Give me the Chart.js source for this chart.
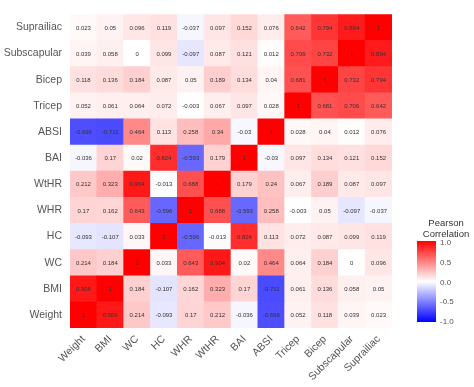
<!DOCTYPE html>
<html>
<head>
<meta charset="utf-8">
<script src="https://cdn.jsdelivr.net/npm/chart.js@4"></script>
<style>
  html, body { margin: 0; padding: 0; background: #fff; }
  #wrap { width: 474px; height: 387px; }
</style>
</head>
<body>
<div id="wrap"><canvas id="corrChart" width="474" height="387"></canvas></div>
<script>
// variable order, left to right on x, bottom to top on y
const variables = ["Weight", "BMI", "WC", "HC", "WHR", "WtHR", "BAI", "ABSI", "Tricep", "Bicep", "Subscapular", "Suprailiac"];

// one row per variable (values read across the columns)
const weightRow      = [1, 0.906, 0.214, -0.093, 0.17, 0.212, -0.036, -0.696, 0.052, 0.118, 0.039, 0.023];
const bmiRow         = [0.906, 1, 0.184, -0.107, 0.162, 0.323, 0.17, -0.711, 0.061, 0.136, 0.058, 0.05];
const wcRow          = [0.214, 0.184, 1, 0.033, 0.643, 0.904, 0.02, 0.464, 0.064, 0.184, 0, 0.096];
const hcRow          = [-0.093, -0.107, 0.033, 1, -0.596, -0.013, 0.824, 0.113, 0.072, 0.087, 0.099, 0.119];
const whrRow         = [0.17, 0.162, 0.643, -0.596, 1, 0.688, -0.593, 0.258, -0.003, 0.05, -0.097, -0.037];
const wthrRow        = [0.212, 0.323, 0.904, -0.013, 0.688, 1, 0.179, 0.24, 0.067, 0.189, 0.087, 0.097];
const baiRow         = [-0.036, 0.17, 0.02, 0.824, -0.593, 0.179, 1, -0.03, 0.097, 0.134, 0.121, 0.152];
const absiRow        = [-0.696, -0.711, 0.464, 0.113, 0.258, 0.34, -0.03, 1, 0.028, 0.04, 0.012, 0.076];
const tricepRow      = [0.052, 0.061, 0.064, 0.072, -0.003, 0.067, 0.097, 0.028, 1, 0.681, 0.706, 0.642];
const bicepRow       = [0.118, 0.136, 0.184, 0.087, 0.05, 0.189, 0.134, 0.04, 0.681, 1, 0.732, 0.794];
const subscapularRow = [0.039, 0.058, 0, 0.099, -0.097, 0.087, 0.121, 0.012, 0.706, 0.732, 1, 0.894];
const suprailiacRow  = [0.023, 0.05, 0.096, 0.119, -0.037, 0.097, 0.152, 0.076, 0.642, 0.794, 0.894, 1];

const rows = [weightRow, bmiRow, wcRow, hcRow, whrRow, wthrRow, baiRow, absiRow, tricepRow, bicepRow, subscapularRow, suprailiacRow];

const legendTicks = ["1.0", "0.5", "0.0", "-0.5", "-1.0"];

// blue -> white -> red
function corrColor(v) {
  const t = Math.min(1, Math.abs(v));
  const c = Math.round(255 * (1 - t));
  return v >= 0 ? `rgb(255,${c},${c})` : `rgb(${c},${c},255)`;
}

const datasets = rows.map((row, i) => ({
  label: variables[i],
  data: row.map(() => 1),
  corr: row,
  backgroundColor: row.map(corrColor),
  borderWidth: 0,
  barPercentage: 1,
  categoryPercentage: 1,
}));

const cellText = {
  id: "cellText",
  afterDatasetsDraw(chart) {
    const ctx = chart.ctx;
    ctx.save();
    ctx.font = "6px 'Liberation Sans', Arial, sans-serif";
    ctx.fillStyle = "#333";
    ctx.textAlign = "center";
    ctx.textBaseline = "middle";
    chart.data.datasets.forEach((ds, i) => {
      const meta = chart.getDatasetMeta(i);
      meta.data.forEach((bar, j) => {
        const cy = (bar.y + bar.base) / 2;
        ctx.fillText(String(ds.corr[j]), bar.x, cy + 0.5);
      });
    });
    ctx.restore();
  }
};

const colorBar = {
  id: "colorBar",
  afterDraw(chart) {
    const ctx = chart.ctx;
    const x = 417, w = 19, top = 241, bottom = 322;
    ctx.save();
    const g = ctx.createLinearGradient(0, top, 0, bottom);
    g.addColorStop(0, "#ff0000");
    g.addColorStop(0.5, "#ffffff");
    g.addColorStop(1, "#0000ff");
    ctx.fillStyle = g;
    ctx.fillRect(x, top, w, bottom - top);

    ctx.fillStyle = "#333";
    ctx.font = "9.5px 'Liberation Sans', Arial, sans-serif";
    ctx.textAlign = "center";
    ctx.textBaseline = "middle";
    ctx.fillText("Pearson", 446, 223);
    ctx.fillText("Correlation", 446, 234);

    ctx.fillStyle = "#555";
    ctx.font = "8px 'Liberation Sans', Arial, sans-serif";
    ctx.textAlign = "left";
    legendTicks.forEach((t, i) => {
      const y = top + 2 + i * (bottom - top - 2) / (legendTicks.length - 1);
      ctx.fillText(t, 440, y);
    });
    ctx.restore();
  }
};

new Chart(document.getElementById("corrChart"), {
  type: "bar",
  data: { labels: variables, datasets: datasets },
  plugins: [cellText, colorBar],
  options: {
    responsive: false,
    animation: false,
    layout: { padding: { top: 7, right: 82, left: 0, bottom: 0 } },
    plugins: { legend: { display: false }, tooltip: { enabled: false } },
    scales: {
      x: {
        stacked: true,
        grid: { display: false, drawTicks: false },
        border: { display: false },
        ticks: {
          minRotation: 45,
          maxRotation: 45,
          padding: 5,
          color: "#555",
          font: { family: "'Liberation Sans', Arial, sans-serif", size: 10.5 }
        },
        afterFit(scale) { scale.height = 59; }
      },
      y: {
        stacked: true,
        min: 0,
        max: 12,
        grid: { display: false, drawTicks: false },
        border: { display: false },
        afterBuildTicks(scale) {
          scale.ticks = variables.map((v, i) => ({ value: i + 0.5 }));
        },
        ticks: {
          padding: 8,
          color: "#555",
          font: { family: "'Liberation Sans', Arial, sans-serif", size: 10.5 },
          callback: (value, index) => variables[index]
        },
        afterFit(scale) { scale.width = 70; }
      }
    }
  }
});
</script>
</body>
</html>
